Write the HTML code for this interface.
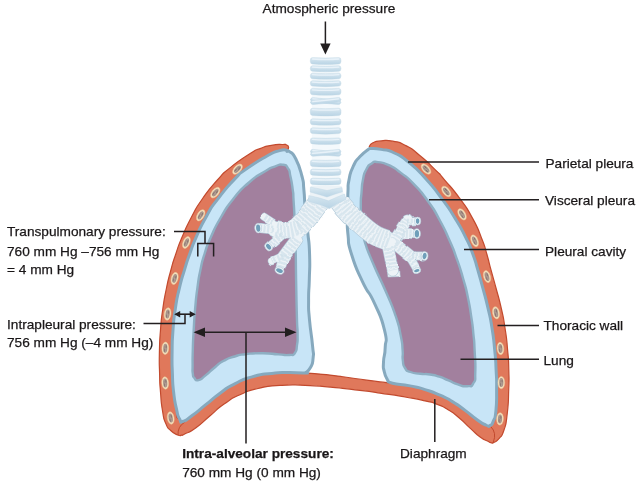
<!DOCTYPE html><html><head><meta charset="utf-8"><style>
html,body{margin:0;padding:0;background:#fff;}
#c{position:relative;width:640px;height:486px;overflow:hidden;background:#fff;font-family:"Liberation Sans",sans-serif;font-size:13.65px;color:#1a1718;}
#c svg{position:absolute;left:0;top:0;}
.t{position:absolute;white-space:nowrap;line-height:1;-webkit-text-stroke:0.25px #1a1718;}
#tx{position:absolute;left:0;top:0;width:640px;height:486px;will-change:transform;opacity:0.999;}
.b{font-weight:bold;}
</style></head><body><div id="c">
<svg width="640" height="486" viewBox="0 0 640 486">
<path d="M288.4,148.6 C288.4,147.9 288.9,147.6 288.3,146.4 C287.7,145.2 288.3,145.6 286.5,145.0 C284.7,144.4 288.0,144.4 283.0,144.5 C278.0,144.6 279.1,143.9 271.4,145.3 C263.7,146.7 267.1,145.8 260.0,148.6 C252.9,151.4 260.1,147.3 250.2,153.6 C240.3,160.0 241.3,158.9 230.3,167.6 C219.4,176.4 226.6,169.7 217.4,180.0 C208.1,190.3 211.3,186.2 202.6,198.5 C194.0,210.9 198.4,204.1 191.5,217.0 C184.7,229.9 187.3,225.0 182.0,237.3 C176.8,249.7 179.5,243.1 175.8,254.0 C172.1,264.9 174.0,258.6 170.9,270.0 C167.9,281.3 169.2,275.0 166.5,288.0 C163.8,301.0 164.8,295.0 162.8,309.0 C160.8,323.0 161.6,315.7 160.5,330.0 C159.4,344.3 159.8,337.5 159.4,352.0 C159.1,366.5 159.2,360.2 159.6,373.5 C159.9,386.8 159.5,379.6 160.5,392.0 C161.5,404.4 160.7,400.2 162.5,410.6 C164.2,421.1 163.0,416.9 165.8,423.5 C168.5,430.1 166.7,426.7 170.7,430.5 C174.7,434.4 174.2,433.4 177.8,435.0 C181.4,436.6 179.2,435.6 181.6,435.2 C184.0,434.8 180.3,436.3 185.1,433.8 C189.9,431.4 187.9,433.6 196.0,427.8 C204.1,421.9 200.1,424.1 209.5,416.2 C218.9,408.3 213.9,411.3 224.1,404.1 C234.3,396.9 228.7,399.9 240.0,394.7 C251.3,389.5 244.7,391.6 258.0,388.5 C271.4,385.4 264.3,386.5 280.0,385.4 C295.6,384.4 288.3,384.8 305.0,385.3 C321.7,385.9 313.3,385.6 330.0,387.1 C346.7,388.5 338.4,387.8 355.0,389.8 C371.7,391.8 363.3,390.6 380.0,393.1 C396.6,395.5 390.0,394.4 405.0,397.0 C420.0,399.6 414.3,398.4 425.1,400.9 C435.9,403.3 429.5,401.3 437.3,404.4 C445.1,407.4 441.1,405.3 448.5,410.0 C455.9,414.6 452.2,412.1 459.6,418.3 C466.9,424.5 463.8,422.4 470.6,428.6 C477.5,434.8 474.4,432.7 480.1,436.9 C485.7,441.0 483.9,439.1 487.5,441.1 C491.1,443.0 488.7,442.2 490.8,442.6 C492.9,443.0 491.1,443.8 493.9,442.4 C496.7,441.0 495.8,442.4 499.2,438.4 C502.5,434.3 501.2,438.4 503.9,430.3 C506.5,422.2 505.6,427.5 507.2,414.0 C508.8,400.6 508.2,404.7 508.7,390.0 C509.2,375.3 509.1,383.3 508.8,370.0 C508.4,356.7 508.9,364.0 507.6,350.0 C506.4,336.0 507.2,342.0 505.0,328.0 C502.9,314.0 504.2,321.4 501.2,308.0 C498.2,294.7 499.4,300.7 496.0,288.0 C492.6,275.3 494.1,281.2 491.0,269.9 C487.9,258.6 490.0,264.9 486.8,254.0 C483.5,243.2 486.3,249.7 481.3,237.4 C476.4,225.1 479.0,230.0 471.9,217.1 C464.7,204.1 469.0,211.0 459.9,198.6 C450.8,186.2 452.6,189.3 444.5,179.8 C436.4,170.3 444.0,178.2 435.6,170.1 C427.3,161.9 429.5,163.4 419.5,155.3 C409.6,147.1 414.7,150.3 405.8,145.6 C396.9,140.9 400.9,142.8 392.7,141.2 C384.5,139.6 387.8,140.4 381.2,140.9 C374.6,141.4 376.9,140.9 372.9,142.8 C368.9,144.7 370.5,145.3 369.3,146.5 L370.5,148.4 C374.1,148.7 373.3,147.9 381.2,149.4 C389.1,150.9 385.2,148.7 394.3,153.0 C403.4,157.3 398.0,153.6 408.5,162.2 C419.0,170.7 414.7,166.6 425.8,178.7 C436.8,190.8 432.1,185.6 441.6,198.4 C451.1,211.2 446.3,204.1 454.3,217.0 C462.4,230.0 459.5,225.0 465.7,237.4 C471.8,249.7 468.8,243.2 472.8,254.1 C476.8,264.9 474.5,258.7 477.8,269.9 C481.1,281.2 479.4,275.2 482.8,287.9 C486.2,300.6 484.9,294.7 488.0,308.1 C491.1,321.4 489.7,314.0 492.0,328.0 C494.2,342.0 493.3,336.0 494.7,350.0 C496.1,364.0 495.5,356.7 496.1,370.0 C496.8,383.3 496.7,376.3 496.6,390.0 C496.6,403.7 496.9,400.8 495.9,411.0 C494.8,421.3 495.3,416.0 493.4,420.8 C491.5,425.6 492.7,424.0 490.2,425.4 C487.7,426.8 490.4,427.1 485.8,425.0 C481.1,423.0 483.2,424.1 476.4,419.2 C469.5,414.4 473.1,416.3 465.1,410.4 C457.1,404.5 460.8,406.7 452.4,401.6 C444.1,396.5 449.1,399.2 440.0,395.2 C430.9,391.2 435.1,392.7 425.0,389.6 C415.0,386.5 420.8,388.0 410.0,385.9 C399.1,383.8 402.5,384.6 392.5,383.3 C382.5,382.0 392.5,383.5 380.0,381.9 C367.5,380.3 371.7,380.8 355.0,378.5 C338.3,376.3 345.8,376.9 330.0,375.1 C314.1,373.3 320.8,374.0 307.5,373.1 C294.2,372.3 301.9,372.6 290.0,372.6 C278.1,372.7 284.5,371.9 271.9,373.4 C259.2,374.8 264.5,373.4 252.1,376.9 C239.7,380.4 245.2,378.5 234.7,383.9 C224.1,389.2 230.0,386.0 220.4,393.0 C210.8,399.9 215.1,397.2 205.8,404.7 C196.4,412.2 201.0,410.7 192.2,415.5 C183.5,420.3 184.9,421.3 179.6,419.0 C174.3,416.7 178.4,417.6 176.4,408.6 C174.4,399.6 175.0,403.7 173.6,392.0 C172.3,380.3 172.9,386.8 172.4,373.5 C171.9,360.2 171.9,366.5 172.1,352.0 C172.3,337.5 172.0,344.3 173.0,330.0 C174.1,315.6 173.2,322.9 175.3,309.0 C177.4,295.0 176.3,301.2 179.4,288.1 C182.5,275.1 181.1,281.2 184.5,269.9 C188.0,258.5 185.8,264.8 189.7,254.0 C193.6,243.2 190.6,249.8 196.1,237.4 C201.6,225.0 198.8,229.7 206.1,216.9 C213.3,204.0 208.4,211.3 217.9,198.9 C227.3,186.4 225.1,189.3 234.4,179.4 C243.8,169.6 235.1,177.1 245.8,169.4 C256.6,161.7 255.4,162.6 266.6,156.3 C277.9,150.1 272.6,152.5 279.6,150.6 C286.6,148.7 284.9,150.6 287.5,150.6Z" fill="#e0785b" stroke="#c24a2e" stroke-width="1.2" stroke-linejoin="round"/>
<path d="M178,435.2 Q177.5,426.5 184.6,422.3 M490.8,426.6 Q497,433 493.3,442" fill="none" stroke="#c24a2e" stroke-width="1"/>
<path d="M287.5,150.6 C284.9,150.6 286.6,148.7 279.6,150.6 C272.6,152.5 277.9,150.1 266.6,156.3 C255.4,162.6 256.6,161.7 245.8,169.4 C235.1,177.1 243.8,169.6 234.4,179.4 C225.1,189.3 227.3,186.4 217.9,198.9 C208.4,211.3 213.3,204.0 206.1,216.9 C198.8,229.7 201.6,225.0 196.1,237.4 C190.6,249.8 193.6,243.2 189.7,254.0 C185.8,264.8 188.0,258.5 184.5,269.9 C181.1,281.2 182.5,275.1 179.4,288.1 C176.3,301.2 177.4,295.0 175.3,309.0 C173.2,322.9 174.1,315.6 173.0,330.0 C172.0,344.3 172.3,337.5 172.1,352.0 C171.9,366.5 171.9,360.2 172.4,373.5 C172.9,386.8 172.3,380.3 173.6,392.0 C175.0,403.7 174.4,399.6 176.4,408.6 C178.4,417.6 177.3,414.8 179.6,419.0 C181.9,423.2 179.1,422.5 183.3,421.3 C187.5,420.1 184.8,421.0 192.2,415.5 C199.7,410.0 196.4,412.2 205.8,404.7 C215.1,397.2 210.8,399.9 220.4,393.0 C230.0,386.0 224.1,389.2 234.7,383.9 C245.2,378.5 239.7,380.4 252.1,376.9 C264.5,373.4 259.2,374.8 271.9,373.4 C284.5,371.9 278.1,372.7 290.0,372.6 C301.9,372.6 301.7,373.0 307.5,373.1 L305.0,373.0 C306.8,371.3 307.6,372.7 310.3,367.8 C313.0,362.8 312.3,365.6 313.1,358.1 C313.8,350.6 313.7,358.1 312.5,345.3 C311.3,332.6 310.9,335.1 309.5,319.9 C308.2,304.8 308.6,313.3 308.6,300.0 C308.5,286.7 308.9,295.0 309.3,280.0 C309.6,265.0 310.1,271.0 309.6,255.0 C309.1,239.0 309.2,247.0 307.7,232.0 C306.3,217.0 306.6,224.0 305.3,210.0 C304.0,196.0 305.0,201.3 303.9,190.0 C302.7,178.6 304.6,186.4 301.9,176.0 C299.2,165.6 299.8,166.8 295.7,158.7 C291.5,150.6 292.4,154.1 289.5,151.6 C286.6,149.2 287.8,151.5 287.0,151.4Z" fill="#c8e5f7" stroke="#86a9be" stroke-width="3" stroke-linejoin="round"/>
<path d="M387.5,380.0 C386.4,377.3 385.7,377.8 384.3,371.8 C383.0,365.9 383.2,370.2 383.5,362.0 C383.8,353.9 384.9,358.1 385.2,347.4 C385.6,336.8 388.1,344.8 384.5,330.1 C381.0,315.4 381.8,319.5 374.5,303.4 C367.2,287.3 370.3,298.1 362.6,281.8 C355.0,265.5 356.4,270.1 351.6,254.5 C346.7,238.9 349.4,247.0 348.0,234.9 C346.7,222.7 347.5,229.0 347.5,218.0 C347.4,207.1 347.6,211.0 347.8,202.0 C348.0,192.9 347.6,198.4 348.0,190.9 C348.4,183.3 347.3,187.6 349.1,179.4 C350.8,171.2 349.6,173.8 353.3,166.2 C356.9,158.6 354.8,162.4 360.0,156.6 C365.3,150.8 366.0,151.4 369.0,148.8 L370.5,148.4 C374.1,148.7 373.3,147.9 381.2,149.4 C389.1,150.9 385.2,148.7 394.3,153.0 C403.4,157.3 398.0,153.6 408.5,162.2 C419.0,170.7 414.7,166.6 425.8,178.7 C436.8,190.8 432.1,185.6 441.6,198.4 C451.1,211.2 446.3,204.1 454.3,217.0 C462.4,230.0 459.5,225.0 465.7,237.4 C471.8,249.7 468.8,243.2 472.8,254.1 C476.8,264.9 474.5,258.7 477.8,269.9 C481.1,281.2 479.4,275.2 482.8,287.9 C486.2,300.6 484.9,294.7 488.0,308.1 C491.1,321.4 489.7,314.0 492.0,328.0 C494.2,342.0 493.3,336.0 494.7,350.0 C496.1,364.0 495.5,356.7 496.1,370.0 C496.8,383.3 496.7,376.3 496.6,390.0 C496.6,403.7 496.9,400.8 495.9,411.0 C494.8,421.3 495.3,416.0 493.4,420.8 C491.5,425.6 492.7,424.0 490.2,425.4 C487.7,426.8 490.4,427.1 485.8,425.0 C481.1,423.0 483.2,424.1 476.4,419.2 C469.5,414.4 473.1,416.3 465.1,410.4 C457.1,404.5 460.8,406.7 452.4,401.6 C444.1,396.5 449.1,399.2 440.0,395.2 C430.9,391.2 435.1,392.7 425.0,389.6 C415.0,386.5 420.8,388.0 410.0,385.9 C399.1,383.8 400.0,385.3 392.5,383.3 C385.0,381.4 389.2,381.1 387.5,380.0Z" fill="#c8e5f7" stroke="#86a9be" stroke-width="3" stroke-linejoin="round"/>
<path d="M283.0,164.8 C278.6,164.2 281.1,164.2 274.7,166.6 C268.3,169.0 272.4,166.8 263.9,172.1 C255.3,177.4 259.1,173.7 249.0,182.5 C239.0,191.2 243.1,186.8 233.8,198.3 C224.5,209.8 228.8,204.0 221.1,217.0 C213.4,230.0 216.3,225.0 210.8,237.3 C205.2,249.7 207.9,243.2 204.5,254.0 C201.1,264.9 202.8,258.6 200.4,269.9 C198.1,281.3 199.2,275.0 197.4,288.0 C195.6,301.0 196.4,295.0 195.1,309.0 C193.9,323.0 194.5,316.3 193.7,330.0 C192.9,343.7 193.1,338.3 192.8,350.0 C192.4,361.7 192.6,357.2 192.6,365.0 C192.6,372.8 192.2,369.2 192.8,373.5 C193.4,377.8 192.5,375.8 194.4,378.0 C196.3,380.2 194.8,381.1 198.5,380.2 C202.2,379.3 200.1,379.7 205.6,375.4 C211.1,371.1 208.9,372.1 215.0,367.2 C221.1,362.3 217.2,364.4 223.8,360.8 C230.4,357.2 227.4,358.7 234.7,356.5 C242.0,354.3 236.2,355.3 245.6,354.2 C255.0,353.1 252.1,353.1 263.0,353.2 C273.9,353.3 269.6,353.8 278.4,354.4 C287.2,355.0 283.9,355.5 289.4,355.0 C294.9,354.5 292.4,356.3 294.9,353.0 C297.4,349.7 296.1,351.4 297.0,345.1 C297.9,338.8 297.6,343.4 297.6,334.0 C297.6,324.6 297.4,335.0 296.9,317.0 C296.4,298.9 296.6,304.0 296.1,280.0 C295.7,256.0 296.0,263.4 295.6,245.0 C295.2,226.7 295.6,239.7 294.9,225.0 C294.2,210.2 294.4,212.7 293.6,200.8 C292.9,188.9 293.8,197.5 292.7,189.3 C291.6,181.1 292.0,183.2 290.4,176.2 C288.9,169.2 290.5,172.1 288.0,168.3 C285.5,164.5 287.4,165.4 283.0,164.8Z" fill="#a2809e" stroke="#8eafc3" stroke-width="2.4" stroke-linejoin="round"/>
<path d="M377.9,162.1 C371.9,161.5 375.2,161.2 371.3,163.7 C367.4,166.2 369.1,164.3 366.3,169.5 C363.5,174.7 364.6,171.7 363.0,179.4 C361.4,187.1 362.3,183.8 361.5,192.6 C360.8,201.4 360.8,194.9 360.8,205.7 C360.8,216.5 360.2,213.5 361.4,225.0 C362.6,236.6 360.6,227.7 364.4,240.3 C368.1,252.9 365.7,245.8 372.8,262.8 C379.9,279.8 378.2,273.8 385.7,291.3 C393.3,308.8 390.4,300.7 395.4,315.3 C400.3,329.9 398.2,323.6 400.6,335.1 C403.0,346.7 401.9,341.7 402.6,350.0 C403.3,358.3 402.0,354.0 402.8,360.0 C403.6,366.0 402.4,364.0 405.0,368.0 C407.6,372.0 405.4,370.1 410.5,372.0 C415.6,373.9 413.8,373.0 420.3,373.8 C426.8,374.6 423.7,373.5 430.0,374.5 C436.3,375.5 433.1,374.7 439.3,376.7 C445.5,378.7 442.3,377.8 448.5,380.4 C454.7,383.0 451.6,382.5 457.8,384.4 C464.0,386.3 461.8,386.7 467.0,386.2 C472.2,385.7 470.7,387.7 473.5,383.0 C476.3,378.3 474.9,383.0 475.3,372.0 C475.7,361.0 475.2,362.7 474.6,350.0 C474.0,337.3 474.6,345.5 473.4,334.0 C472.3,322.5 473.0,327.9 471.1,315.6 C469.2,303.3 470.4,309.4 467.8,297.0 C465.1,284.6 466.9,291.6 463.1,278.5 C459.3,265.4 460.9,270.2 456.4,257.8 C452.0,245.3 455.3,253.5 449.8,241.1 C444.3,228.7 447.1,233.7 439.9,220.5 C432.7,207.3 437.0,213.7 428.2,201.5 C419.5,189.2 422.7,193.4 413.6,183.8 C404.5,174.3 408.9,179.1 400.9,172.9 C392.8,166.8 397.1,169.0 389.4,165.4 C381.7,161.8 383.9,162.7 377.9,162.1Z" fill="#a2809e" stroke="#8eafc3" stroke-width="2.4" stroke-linejoin="round"/>
<g transform="translate(237.5,169.2) rotate(133.5)"><ellipse rx="6.2" ry="3.4" fill="#f5e0bb" stroke="#e6c79c" stroke-width="0.5"/><ellipse rx="4.5" ry="2.1" fill="#a8938a"/><ellipse cx="-1.6" cy="-0.3" rx="1.6" ry="1" fill="#857069"/><ellipse cx="1.9" cy="0.4" rx="1.7" ry="0.9" fill="#8a766f"/><path d="M-3.6,0.2 L3.6,-0.2" stroke="#c4b2a6" stroke-width="0.6"/></g>
<g transform="translate(215.3,192.6) rotate(128.6)"><ellipse rx="6.2" ry="3.4" fill="#f5e0bb" stroke="#e6c79c" stroke-width="0.5"/><ellipse rx="4.5" ry="2.1" fill="#a8938a"/><ellipse cx="-1.6" cy="-0.3" rx="1.6" ry="1" fill="#857069"/><ellipse cx="1.9" cy="0.4" rx="1.7" ry="0.9" fill="#8a766f"/><path d="M-3.6,0.2 L3.6,-0.2" stroke="#c4b2a6" stroke-width="0.6"/></g>
<g transform="translate(200.7,215.3) rotate(120.1)"><ellipse rx="6.2" ry="3.4" fill="#f5e0bb" stroke="#e6c79c" stroke-width="0.5"/><ellipse rx="4.5" ry="2.1" fill="#a8938a"/><ellipse cx="-1.6" cy="-0.3" rx="1.6" ry="1" fill="#857069"/><ellipse cx="1.9" cy="0.4" rx="1.7" ry="0.9" fill="#8a766f"/><path d="M-3.6,0.2 L3.6,-0.2" stroke="#c4b2a6" stroke-width="0.6"/></g>
<g transform="translate(186.4,242.5) rotate(112.5)"><ellipse rx="6.2" ry="3.4" fill="#f5e0bb" stroke="#e6c79c" stroke-width="0.5"/><ellipse rx="4.5" ry="2.1" fill="#a8938a"/><ellipse cx="-1.6" cy="-0.3" rx="1.6" ry="1" fill="#857069"/><ellipse cx="1.9" cy="0.4" rx="1.7" ry="0.9" fill="#8a766f"/><path d="M-3.6,0.2 L3.6,-0.2" stroke="#c4b2a6" stroke-width="0.6"/></g>
<g transform="translate(174.6,278.4) rotate(104.7)"><ellipse rx="6.2" ry="3.4" fill="#f5e0bb" stroke="#e6c79c" stroke-width="0.5"/><ellipse rx="4.5" ry="2.1" fill="#a8938a"/><ellipse cx="-1.6" cy="-0.3" rx="1.6" ry="1" fill="#857069"/><ellipse cx="1.9" cy="0.4" rx="1.7" ry="0.9" fill="#8a766f"/><path d="M-3.6,0.2 L3.6,-0.2" stroke="#c4b2a6" stroke-width="0.6"/></g>
<g transform="translate(167.6,314.0) rotate(97.6)"><ellipse rx="6.2" ry="3.4" fill="#f5e0bb" stroke="#e6c79c" stroke-width="0.5"/><ellipse rx="4.5" ry="2.1" fill="#a8938a"/><ellipse cx="-1.6" cy="-0.3" rx="1.6" ry="1" fill="#857069"/><ellipse cx="1.9" cy="0.4" rx="1.7" ry="0.9" fill="#8a766f"/><path d="M-3.6,0.2 L3.6,-0.2" stroke="#c4b2a6" stroke-width="0.6"/></g>
<g transform="translate(165.3,348.3) rotate(92.0)"><ellipse rx="6.2" ry="3.4" fill="#f5e0bb" stroke="#e6c79c" stroke-width="0.5"/><ellipse rx="4.5" ry="2.1" fill="#a8938a"/><ellipse cx="-1.6" cy="-0.3" rx="1.6" ry="1" fill="#857069"/><ellipse cx="1.9" cy="0.4" rx="1.7" ry="0.9" fill="#8a766f"/><path d="M-3.6,0.2 L3.6,-0.2" stroke="#c4b2a6" stroke-width="0.6"/></g>
<g transform="translate(165.2,383.0) rotate(85.6)"><ellipse rx="6.2" ry="3.4" fill="#f5e0bb" stroke="#e6c79c" stroke-width="0.5"/><ellipse rx="4.5" ry="2.1" fill="#a8938a"/><ellipse cx="-1.6" cy="-0.3" rx="1.6" ry="1" fill="#857069"/><ellipse cx="1.9" cy="0.4" rx="1.7" ry="0.9" fill="#8a766f"/><path d="M-3.6,0.2 L3.6,-0.2" stroke="#c4b2a6" stroke-width="0.6"/></g>
<g transform="translate(170.7,418.0) rotate(81.1)"><ellipse rx="6.2" ry="3.4" fill="#f5e0bb" stroke="#e6c79c" stroke-width="0.5"/><ellipse rx="4.5" ry="2.1" fill="#a8938a"/><ellipse cx="-1.6" cy="-0.3" rx="1.6" ry="1" fill="#857069"/><ellipse cx="1.9" cy="0.4" rx="1.7" ry="0.9" fill="#8a766f"/><path d="M-3.6,0.2 L3.6,-0.2" stroke="#c4b2a6" stroke-width="0.6"/></g>

<g transform="translate(426.0,169.0) rotate(47.9)"><ellipse rx="6.2" ry="3.4" fill="#f5e0bb" stroke="#e6c79c" stroke-width="0.5"/><ellipse rx="4.5" ry="2.1" fill="#a8938a"/><ellipse cx="-1.6" cy="-0.3" rx="1.6" ry="1" fill="#857069"/><ellipse cx="1.9" cy="0.4" rx="1.7" ry="0.9" fill="#8a766f"/><path d="M-3.6,0.2 L3.6,-0.2" stroke="#c4b2a6" stroke-width="0.6"/></g>
<g transform="translate(446.3,191.5) rotate(51.5)"><ellipse rx="6.2" ry="3.4" fill="#f5e0bb" stroke="#e6c79c" stroke-width="0.5"/><ellipse rx="4.5" ry="2.1" fill="#a8938a"/><ellipse cx="-1.6" cy="-0.3" rx="1.6" ry="1" fill="#857069"/><ellipse cx="1.9" cy="0.4" rx="1.7" ry="0.9" fill="#8a766f"/><path d="M-3.6,0.2 L3.6,-0.2" stroke="#c4b2a6" stroke-width="0.6"/></g>
<g transform="translate(462.0,214.3) rotate(60.1)"><ellipse rx="6.2" ry="3.4" fill="#f5e0bb" stroke="#e6c79c" stroke-width="0.5"/><ellipse rx="4.5" ry="2.1" fill="#a8938a"/><ellipse cx="-1.6" cy="-0.3" rx="1.6" ry="1" fill="#857069"/><ellipse cx="1.9" cy="0.4" rx="1.7" ry="0.9" fill="#8a766f"/><path d="M-3.6,0.2 L3.6,-0.2" stroke="#c4b2a6" stroke-width="0.6"/></g>
<g transform="translate(474.6,240.8) rotate(68.1)"><ellipse rx="6.2" ry="3.4" fill="#f5e0bb" stroke="#e6c79c" stroke-width="0.5"/><ellipse rx="4.5" ry="2.1" fill="#a8938a"/><ellipse cx="-1.6" cy="-0.3" rx="1.6" ry="1" fill="#857069"/><ellipse cx="1.9" cy="0.4" rx="1.7" ry="0.9" fill="#8a766f"/><path d="M-3.6,0.2 L3.6,-0.2" stroke="#c4b2a6" stroke-width="0.6"/></g>
<g transform="translate(487.0,276.6) rotate(73.4)"><ellipse rx="6.2" ry="3.4" fill="#f5e0bb" stroke="#e6c79c" stroke-width="0.5"/><ellipse rx="4.5" ry="2.1" fill="#a8938a"/><ellipse cx="-1.6" cy="-0.3" rx="1.6" ry="1" fill="#857069"/><ellipse cx="1.9" cy="0.4" rx="1.7" ry="0.9" fill="#8a766f"/><path d="M-3.6,0.2 L3.6,-0.2" stroke="#c4b2a6" stroke-width="0.6"/></g>
<g transform="translate(496.0,312.8) rotate(79.4)"><ellipse rx="6.2" ry="3.4" fill="#f5e0bb" stroke="#e6c79c" stroke-width="0.5"/><ellipse rx="4.5" ry="2.1" fill="#a8938a"/><ellipse cx="-1.6" cy="-0.3" rx="1.6" ry="1" fill="#857069"/><ellipse cx="1.9" cy="0.4" rx="1.7" ry="0.9" fill="#8a766f"/><path d="M-3.6,0.2 L3.6,-0.2" stroke="#c4b2a6" stroke-width="0.6"/></g>
<g transform="translate(500.4,348.5) rotate(85.7)"><ellipse rx="6.2" ry="3.4" fill="#f5e0bb" stroke="#e6c79c" stroke-width="0.5"/><ellipse rx="4.5" ry="2.1" fill="#a8938a"/><ellipse cx="-1.6" cy="-0.3" rx="1.6" ry="1" fill="#857069"/><ellipse cx="1.9" cy="0.4" rx="1.7" ry="0.9" fill="#8a766f"/><path d="M-3.6,0.2 L3.6,-0.2" stroke="#c4b2a6" stroke-width="0.6"/></g>
<g transform="translate(501.3,382.6) rotate(90.3)"><ellipse rx="6.2" ry="3.4" fill="#f5e0bb" stroke="#e6c79c" stroke-width="0.5"/><ellipse rx="4.5" ry="2.1" fill="#a8938a"/><ellipse cx="-1.6" cy="-0.3" rx="1.6" ry="1" fill="#857069"/><ellipse cx="1.9" cy="0.4" rx="1.7" ry="0.9" fill="#8a766f"/><path d="M-3.6,0.2 L3.6,-0.2" stroke="#c4b2a6" stroke-width="0.6"/></g>
<g transform="translate(500.0,418.9) rotate(92.1)"><ellipse rx="6.2" ry="3.4" fill="#f5e0bb" stroke="#e6c79c" stroke-width="0.5"/><ellipse rx="4.5" ry="2.1" fill="#a8938a"/><ellipse cx="-1.6" cy="-0.3" rx="1.6" ry="1" fill="#857069"/><ellipse cx="1.9" cy="0.4" rx="1.7" ry="0.9" fill="#8a766f"/><path d="M-3.6,0.2 L3.6,-0.2" stroke="#c4b2a6" stroke-width="0.6"/></g>

<defs><filter id="wob" x="-5%" y="-5%" width="110%" height="110%"><feTurbulence type="fractalNoise" baseFrequency="0.11" numOctaves="2" seed="7" result="n"/><feDisplacementMap in="SourceGraphic" in2="n" scale="3.2" xChannelSelector="R" yChannelSelector="G"/></filter><linearGradient id="rg" x1="0" y1="0" x2="0" y2="1"><stop offset="0" stop-color="#dbeaf3"/><stop offset="0.5" stop-color="#c9deeb"/><stop offset="1" stop-color="#b9d4e5"/></linearGradient></defs>
<g filter="url(#wob)">








<path d="M273,222.5 L263.8,216.6" fill="none" stroke="#b4ccdb" stroke-width="8.0" stroke-linecap="round" stroke-linejoin="round"/><path d="M273,229.5 L260.5,228" fill="none" stroke="#b4ccdb" stroke-width="10.0" stroke-linecap="round" stroke-linejoin="round"/><path d="M282,235 L270.5,245" fill="none" stroke="#b4ccdb" stroke-width="9.5" stroke-linecap="round" stroke-linejoin="round"/><path d="M283,256 L272,261" fill="none" stroke="#b4ccdb" stroke-width="8.5" stroke-linecap="round" stroke-linejoin="round"/><path d="M285,255 L280.6,268" fill="none" stroke="#b4ccdb" stroke-width="10.0" stroke-linecap="round" stroke-linejoin="round"/><path d="M297,239 L283.5,257" fill="none" stroke="#b4ccdb" stroke-width="13.0" stroke-linecap="round" stroke-linejoin="round"/><path d="M300,227 C292,231 282,231 275.5,229.3" fill="none" stroke="#b4ccdb" stroke-width="16.5" stroke-linecap="round" stroke-linejoin="round"/><path d="M319,202 C312,212 306,220 298.5,227" fill="none" stroke="#b4ccdb" stroke-width="21.5" stroke-linecap="round" stroke-linejoin="round"/><path d="M273,222.5 L263.8,216.6" fill="none" stroke="#edf3f7" stroke-width="6.7" stroke-linecap="round" stroke-linejoin="round"/><path d="M273,229.5 L260.5,228" fill="none" stroke="#edf3f7" stroke-width="8.7" stroke-linecap="round" stroke-linejoin="round"/><path d="M282,235 L270.5,245" fill="none" stroke="#edf3f7" stroke-width="8.2" stroke-linecap="round" stroke-linejoin="round"/><path d="M283,256 L272,261" fill="none" stroke="#edf3f7" stroke-width="7.2" stroke-linecap="round" stroke-linejoin="round"/><path d="M285,255 L280.6,268" fill="none" stroke="#edf3f7" stroke-width="8.7" stroke-linecap="round" stroke-linejoin="round"/><path d="M297,239 L283.5,257" fill="none" stroke="#edf3f7" stroke-width="11.7" stroke-linecap="round" stroke-linejoin="round"/><path d="M300,227 C292,231 282,231 275.5,229.3" fill="none" stroke="#edf3f7" stroke-width="15.2" stroke-linecap="round" stroke-linejoin="round"/><path d="M319,202 C312,212 306,220 298.5,227" fill="none" stroke="#edf3f7" stroke-width="20.2" stroke-linecap="round" stroke-linejoin="round"/><path d="M273,222.5 L263.8,216.6" fill="none" stroke="#cfdfe9" stroke-width="5.4" stroke-linecap="butt" stroke-dasharray="2.2 1.5" opacity="0.7"/><path d="M273,229.5 L260.5,228" fill="none" stroke="#cfdfe9" stroke-width="7.4" stroke-linecap="butt" stroke-dasharray="2.2 1.5" opacity="0.7"/><path d="M282,235 L270.5,245" fill="none" stroke="#cfdfe9" stroke-width="6.9" stroke-linecap="butt" stroke-dasharray="2.2 1.5" opacity="0.7"/><path d="M283,256 L272,261" fill="none" stroke="#cfdfe9" stroke-width="5.9" stroke-linecap="butt" stroke-dasharray="2.2 1.5" opacity="0.7"/><path d="M285,255 L280.6,268" fill="none" stroke="#cfdfe9" stroke-width="7.4" stroke-linecap="butt" stroke-dasharray="2.2 1.5" opacity="0.7"/><path d="M297,239 L283.5,257" fill="none" stroke="#cfdfe9" stroke-width="10.4" stroke-linecap="butt" stroke-dasharray="2.2 1.5" opacity="0.7"/><path d="M300,227 C292,231 282,231 275.5,229.3" fill="none" stroke="#cfdfe9" stroke-width="13.9" stroke-linecap="butt" stroke-dasharray="2.2 1.5" opacity="0.7"/><path d="M319,202 C312,212 306,220 298.5,227" fill="none" stroke="#cfdfe9" stroke-width="18.9" stroke-linecap="butt" stroke-dasharray="2.2 1.5" opacity="0.7"/>







<path d="M387.5,271 L399.8,271 L400.3,276.5 L388,277 Z" fill="#edf3f7" stroke="#b4ccdb" stroke-width="0.6"/>

<path d="M407,221.5 L415,221.2" fill="none" stroke="#b4ccdb" stroke-width="8.0" stroke-linecap="round" stroke-linejoin="round"/><path d="M402,233 L414.3,233.7" fill="none" stroke="#b4ccdb" stroke-width="10.5" stroke-linecap="round" stroke-linejoin="round"/><path d="M394.5,240 L407.3,220" fill="none" stroke="#b4ccdb" stroke-width="11.0" stroke-linecap="round" stroke-linejoin="round"/><path d="M412,256 L421.8,256" fill="none" stroke="#b4ccdb" stroke-width="9.0" stroke-linecap="round" stroke-linejoin="round"/><path d="M411,259 L416.2,268" fill="none" stroke="#b4ccdb" stroke-width="8.5" stroke-linecap="round" stroke-linejoin="round"/><path d="M396,244.5 L411.5,257" fill="none" stroke="#b4ccdb" stroke-width="12.5" stroke-linecap="round" stroke-linejoin="round"/><path d="M388.3,248 L392.8,270.5" fill="none" stroke="#b4ccdb" stroke-width="12.0" stroke-linecap="round" stroke-linejoin="round"/><path d="M339,201 C344,208 351,216 364.1,227.1 S380,237.5 389.5,241" fill="none" stroke="#b4ccdb" stroke-width="20.5" stroke-linecap="round" stroke-linejoin="round"/><path d="M407,221.5 L415,221.2" fill="none" stroke="#edf3f7" stroke-width="6.7" stroke-linecap="round" stroke-linejoin="round"/><path d="M402,233 L414.3,233.7" fill="none" stroke="#edf3f7" stroke-width="9.2" stroke-linecap="round" stroke-linejoin="round"/><path d="M394.5,240 L407.3,220" fill="none" stroke="#edf3f7" stroke-width="9.7" stroke-linecap="round" stroke-linejoin="round"/><path d="M412,256 L421.8,256" fill="none" stroke="#edf3f7" stroke-width="7.7" stroke-linecap="round" stroke-linejoin="round"/><path d="M411,259 L416.2,268" fill="none" stroke="#edf3f7" stroke-width="7.2" stroke-linecap="round" stroke-linejoin="round"/><path d="M396,244.5 L411.5,257" fill="none" stroke="#edf3f7" stroke-width="11.2" stroke-linecap="round" stroke-linejoin="round"/><path d="M388.3,248 L392.8,270.5" fill="none" stroke="#edf3f7" stroke-width="10.7" stroke-linecap="round" stroke-linejoin="round"/><path d="M339,201 C344,208 351,216 364.1,227.1 S380,237.5 389.5,241" fill="none" stroke="#edf3f7" stroke-width="19.2" stroke-linecap="round" stroke-linejoin="round"/><path d="M407,221.5 L415,221.2" fill="none" stroke="#cfdfe9" stroke-width="5.4" stroke-linecap="butt" stroke-dasharray="2.2 1.5" opacity="0.7"/><path d="M402,233 L414.3,233.7" fill="none" stroke="#cfdfe9" stroke-width="7.9" stroke-linecap="butt" stroke-dasharray="2.2 1.5" opacity="0.7"/><path d="M394.5,240 L407.3,220" fill="none" stroke="#cfdfe9" stroke-width="8.4" stroke-linecap="butt" stroke-dasharray="2.2 1.5" opacity="0.7"/><path d="M412,256 L421.8,256" fill="none" stroke="#cfdfe9" stroke-width="6.4" stroke-linecap="butt" stroke-dasharray="2.2 1.5" opacity="0.7"/><path d="M411,259 L416.2,268" fill="none" stroke="#cfdfe9" stroke-width="5.9" stroke-linecap="butt" stroke-dasharray="2.2 1.5" opacity="0.7"/><path d="M396,244.5 L411.5,257" fill="none" stroke="#cfdfe9" stroke-width="9.9" stroke-linecap="butt" stroke-dasharray="2.2 1.5" opacity="0.7"/><path d="M388.3,248 L392.8,270.5" fill="none" stroke="#cfdfe9" stroke-width="9.4" stroke-linecap="butt" stroke-dasharray="2.2 1.5" opacity="0.7"/><path d="M339,201 C344,208 351,216 364.1,227.1 S380,237.5 389.5,241" fill="none" stroke="#cfdfe9" stroke-width="17.9" stroke-linecap="butt" stroke-dasharray="2.2 1.5" opacity="0.7"/>
</g>
<g transform="translate(258.2,228.1) rotate(-5.0)"><ellipse rx="3.5" ry="4.8" fill="#f1f6f9" stroke="#b4ccdb" stroke-width="0.6"/><ellipse rx="2.1" ry="3.6" fill="#6f9fba"/></g>
<g transform="translate(268.6,246.8) rotate(-38.0)"><ellipse rx="3.4" ry="4.4" fill="#f1f6f9" stroke="#b4ccdb" stroke-width="0.6"/><ellipse rx="2.0" ry="3.2" fill="#6f9fba"/></g>
<g transform="translate(279.5,270.6) rotate(-68.0)"><ellipse rx="3.5" ry="4.7" fill="#f1f6f9" stroke="#b4ccdb" stroke-width="0.6"/><ellipse rx="2.1" ry="3.5" fill="#6f9fba"/></g>
<g transform="translate(417.6,221.1) rotate(0.0)"><ellipse rx="3.2" ry="4.0" fill="#f1f6f9" stroke="#b4ccdb" stroke-width="0.6"/><ellipse rx="1.8" ry="2.8" fill="#6f9fba"/></g>
<g transform="translate(416.9,233.7) rotate(0.0)"><ellipse rx="3.6" ry="5.0" fill="#f1f6f9" stroke="#b4ccdb" stroke-width="0.6"/><ellipse rx="2.2" ry="3.8" fill="#6f9fba"/></g>
<g transform="translate(424.6,256.0) rotate(8.0)"><ellipse rx="3.4" ry="4.4" fill="#f1f6f9" stroke="#b4ccdb" stroke-width="0.6"/><ellipse rx="2.0" ry="3.2" fill="#6f9fba"/></g>
<g transform="translate(416.8,270.6) rotate(75.0)"><ellipse rx="2.9" ry="4.0" fill="#f1f6f9" stroke="#b4ccdb" stroke-width="0.6"/><ellipse rx="1.5" ry="2.8" fill="#6f9fba"/></g>
<rect x="311.8" y="59" width="28" height="134" fill="#f4f9fc"/>
<path d="M310.3,60.0 Q310.3,57.4 312.9,57.6 Q325.6,58.5 338.4,57.6 Q341.0,57.4 341.0,60.0 L341.0,61.4 Q341.0,64.0 338.4,63.9 Q325.6,65.0 312.9,63.9 Q310.3,64.0 310.3,61.4 Z" fill="url(#rg)" stroke="#bfd6e4" stroke-width="0.4"/><path d="M312.5,59.0 Q325.6,60.0 338.8,59.0" fill="none" stroke="#eaf3f9" stroke-width="1.3" stroke-linecap="round" opacity="0.9"/>
<path d="M310.3,68.2 Q310.3,65.6 312.9,65.8 Q325.6,66.7 338.4,65.8 Q341.0,65.6 341.0,68.2 L341.0,68.8 Q341.0,71.4 338.4,71.3 Q325.6,72.4 312.9,71.3 Q310.3,71.4 310.3,68.8 Z" fill="url(#rg)" stroke="#bfd6e4" stroke-width="0.4"/><path d="M312.5,67.2 Q325.6,68.2 338.8,67.2" fill="none" stroke="#eaf3f9" stroke-width="1.3" stroke-linecap="round" opacity="0.9"/>
<path d="M310.3,75.6 Q310.3,73.0 312.9,73.2 Q325.6,74.1 338.4,73.2 Q341.0,73.0 341.0,75.6 L341.0,76.2 Q341.0,78.8 338.4,78.7 Q325.6,79.8 312.9,78.7 Q310.3,78.8 310.3,76.2 Z" fill="url(#rg)" stroke="#bfd6e4" stroke-width="0.4"/><path d="M312.5,74.6 Q325.6,75.6 338.8,74.6" fill="none" stroke="#eaf3f9" stroke-width="1.3" stroke-linecap="round" opacity="0.9"/>
<path d="M310.3,83.1 Q310.3,80.5 312.9,80.7 Q325.6,81.6 338.4,80.7 Q341.0,80.5 341.0,83.1 L341.0,83.6 Q341.0,86.2 338.4,86.1 Q325.6,87.2 312.9,86.1 Q310.3,86.2 310.3,83.6 Z" fill="url(#rg)" stroke="#bfd6e4" stroke-width="0.4"/><path d="M312.5,82.1 Q325.6,83.1 338.8,82.1" fill="none" stroke="#eaf3f9" stroke-width="1.3" stroke-linecap="round" opacity="0.9"/>
<path d="M310.3,90.8 Q310.3,88.2 312.9,88.4 Q325.6,89.3 338.4,88.4 Q341.0,88.2 341.0,90.8 L341.0,92.2 Q341.0,94.8 338.4,94.7 Q325.6,95.8 312.9,94.7 Q310.3,94.8 310.3,92.2 Z" fill="url(#rg)" stroke="#bfd6e4" stroke-width="0.4"/><path d="M312.5,89.8 Q325.6,90.8 338.8,89.8" fill="none" stroke="#eaf3f9" stroke-width="1.3" stroke-linecap="round" opacity="0.9"/>
<path d="M310.3,110.6 Q310.3,108.0 312.9,108.2 Q325.6,109.1 338.4,108.2 Q341.0,108.0 341.0,110.6 L341.0,113.0 Q341.0,115.6 338.4,115.5 Q325.6,116.6 312.9,115.5 Q310.3,115.6 310.3,113.0 Z" fill="url(#rg)" stroke="#bfd6e4" stroke-width="0.4"/><path d="M312.5,109.6 Q325.6,110.6 338.8,109.6" fill="none" stroke="#eaf3f9" stroke-width="1.3" stroke-linecap="round" opacity="0.9"/>
<path d="M310.3,121.2 Q310.3,118.6 312.9,118.8 Q325.6,119.7 338.4,118.8 Q341.0,118.6 341.0,121.2 L341.0,122.2 Q341.0,124.8 338.4,124.7 Q325.6,125.8 312.9,124.7 Q310.3,124.8 310.3,122.2 Z" fill="url(#rg)" stroke="#bfd6e4" stroke-width="0.4"/><path d="M312.5,120.2 Q325.6,121.2 338.8,120.2" fill="none" stroke="#eaf3f9" stroke-width="1.3" stroke-linecap="round" opacity="0.9"/>
<path d="M310.3,130.2 Q310.3,127.6 312.9,127.8 Q325.6,128.7 338.4,127.8 Q341.0,127.6 341.0,130.2 L341.0,131.1 Q341.0,133.7 338.4,133.6 Q325.6,134.7 312.9,133.6 Q310.3,133.7 310.3,131.1 Z" fill="url(#rg)" stroke="#bfd6e4" stroke-width="0.4"/><path d="M312.5,129.2 Q325.6,130.2 338.8,129.2" fill="none" stroke="#eaf3f9" stroke-width="1.3" stroke-linecap="round" opacity="0.9"/>
<path d="M310.3,140.3 Q310.3,137.7 312.9,137.9 Q325.6,138.8 338.4,137.9 Q341.0,137.7 341.0,140.3 L341.0,141.4 Q341.0,144.0 338.4,143.9 Q325.6,145.0 312.9,143.9 Q310.3,144.0 310.3,141.4 Z" fill="url(#rg)" stroke="#bfd6e4" stroke-width="0.4"/><path d="M312.5,139.3 Q325.6,140.3 338.8,139.3" fill="none" stroke="#eaf3f9" stroke-width="1.3" stroke-linecap="round" opacity="0.9"/>
<path d="M310.3,162.3 Q310.3,159.7 312.9,159.9 Q325.6,160.8 338.4,159.9 Q341.0,159.7 341.0,162.3 L341.0,164.0 Q341.0,166.6 338.4,166.5 Q325.6,167.6 312.9,166.5 Q310.3,166.6 310.3,164.0 Z" fill="url(#rg)" stroke="#bfd6e4" stroke-width="0.4"/><path d="M312.5,161.3 Q325.6,162.3 338.8,161.3" fill="none" stroke="#eaf3f9" stroke-width="1.3" stroke-linecap="round" opacity="0.9"/>
<path d="M310.3,171.5 Q310.3,168.9 312.9,169.1 Q325.6,170.0 338.4,169.1 Q341.0,168.9 341.0,171.5 L341.0,172.7 Q341.0,175.3 338.4,175.2 Q325.6,176.3 312.9,175.2 Q310.3,175.3 310.3,172.7 Z" fill="url(#rg)" stroke="#bfd6e4" stroke-width="0.4"/><path d="M312.5,170.5 Q325.6,171.5 338.8,170.5" fill="none" stroke="#eaf3f9" stroke-width="1.3" stroke-linecap="round" opacity="0.9"/>
<path d="M310.3,180.5 Q310.3,177.9 312.9,178.1 Q325.6,179.0 338.4,178.1 Q341.0,177.9 341.0,180.5 L341.0,181.9 Q341.0,184.5 338.4,184.4 Q325.6,185.5 312.9,184.4 Q310.3,184.5 310.3,181.9 Z" fill="url(#rg)" stroke="#bfd6e4" stroke-width="0.4"/><path d="M312.5,179.5 Q325.6,180.5 338.8,179.5" fill="none" stroke="#eaf3f9" stroke-width="1.3" stroke-linecap="round" opacity="0.9"/>
<g transform="rotate(6 325.6 101.0)"><path d="M310.5,101.3 Q310.5,98.7 313.1,98.9 Q325.7,99.0 338.3,98.9 Q340.9,98.7 340.9,101.3 L340.9,100.7 Q340.9,103.3 338.3,103.2 Q325.7,103.6 313.1,103.2 Q310.5,103.3 310.5,100.7 Z" fill="url(#rg)" stroke="#bfd6e4" stroke-width="0.4"/><path d="M312.7,100.3 Q325.7,100.5 338.7,100.3" fill="none" stroke="#eaf3f9" stroke-width="1.3" stroke-linecap="round" opacity="0.9"/></g>
<g transform="rotate(-6 325.6 101.0)"><path d="M310.5,101.3 Q310.5,98.7 313.1,98.9 Q325.7,99.0 338.3,98.9 Q340.9,98.7 340.9,101.3 L340.9,100.7 Q340.9,103.3 338.3,103.2 Q325.7,103.6 313.1,103.2 Q310.5,103.3 310.5,100.7 Z" fill="url(#rg)" stroke="#bfd6e4" stroke-width="0.4"/><path d="M312.7,100.3 Q325.7,100.5 338.7,100.3" fill="none" stroke="#eaf3f9" stroke-width="1.3" stroke-linecap="round" opacity="0.9"/></g>
<g transform="rotate(6 325.6 152.8)"><path d="M310.5,153.1 Q310.5,150.5 313.1,150.7 Q325.7,150.8 338.3,150.7 Q340.9,150.5 340.9,153.1 L340.9,152.5 Q340.9,155.1 338.3,155.0 Q325.7,155.4 313.1,155.0 Q310.5,155.1 310.5,152.5 Z" fill="url(#rg)" stroke="#bfd6e4" stroke-width="0.4"/><path d="M312.7,152.1 Q325.7,152.3 338.7,152.1" fill="none" stroke="#eaf3f9" stroke-width="1.3" stroke-linecap="round" opacity="0.9"/></g>
<g transform="rotate(-6 325.6 152.8)"><path d="M310.5,153.1 Q310.5,150.5 313.1,150.7 Q325.7,150.8 338.3,150.7 Q340.9,150.5 340.9,153.1 L340.9,152.5 Q340.9,155.1 338.3,155.0 Q325.7,155.4 313.1,155.0 Q310.5,155.1 310.5,152.5 Z" fill="url(#rg)" stroke="#bfd6e4" stroke-width="0.4"/><path d="M312.7,152.1 Q325.7,152.3 338.7,152.1" fill="none" stroke="#eaf3f9" stroke-width="1.3" stroke-linecap="round" opacity="0.9"/></g>
<path d="M310.8,186 L341.6,186 L345,199 L329.5,209 L309,202 Z" fill="#edf3f7"/>
<path d="M310.4,187.2 Q319,188.5 327,190.5 Q335,188.8 342,187.6 L342.4,191.8 Q335,194 327,197 Q319,194.5 310.2,192 Z" fill="url(#rg)" stroke="#bcd4e2" stroke-width="0.4" stroke-linejoin="round"/>
<path d="M308.8,195.5 Q319,197.5 328.5,200.8 Q337,197 344.6,194 L346,199.5 Q337,203.5 329.3,208.6 Q319,204 308.4,201.5 Z" fill="url(#rg)" stroke="#bcd4e2" stroke-width="0.4" stroke-linejoin="round"/>
<path d="M325.4,21.5 V46" stroke="#231f20" stroke-width="1.5" fill="none"/>
<path d="M320.2,43.5 L330.6,43.5 L325.4,54.5Z" fill="#231f20"/>
<path d="M408,162 H539 M429,199.8 H539 M464,249.6 H539 M497.5,325.4 H539 M460.5,359.3 H539 M434.8,399 V442" stroke="#231f20" stroke-width="1.5" fill="none"/>
<path d="M174,231.6 H205 V243.5 M197.8,256.5 V243.5 H213.6 V256.5" stroke="#231f20" stroke-width="1.5" fill="none"/>
<path d="M143.5,323.4 H185 V314.2" stroke="#231f20" stroke-width="1.5" fill="none"/>
<path d="M177,314.2 H193" stroke="#231f20" stroke-width="1.6"/>
<path d="M174.2,314.2 L180.2,311 L180.2,317.4Z M195.7,314.2 L189.7,311 L189.7,317.4Z" fill="#231f20"/>
<path d="M203,332.2 H287 M246,332.2 V443.5" stroke="#231f20" stroke-width="1.5" fill="none"/>
<path d="M193.5,332.2 L205,327.5 L205,336.9Z M296.5,332.2 L285,327.5 L285,336.9Z" fill="#231f20"/>
</svg>
<div id="tx">
<div class="t" id="t0" style="left:262.6px;top:2.4px">Atmospheric pressure</div>
<div class="t" id="t1" style="left:545.5px;top:156.6px">Parietal pleura</div>
<div class="t" id="t2" style="left:545.0px;top:194.0px">Visceral pleura</div>
<div class="t" id="t3" style="left:545.0px;top:245.0px">Pleural cavity</div>
<div class="t" id="t4" style="left:543.5px;top:319.2px">Thoracic wall</div>
<div class="t" id="t5" style="left:543.5px;top:354.2px">Lung</div>
<div class="t" id="t6" style="left:400.0px;top:447.4px">Diaphragm</div>
<div class="t" id="t7" style="left:7.0px;top:225.0px">Transpulmonary pressure:</div>
<div class="t" id="t8" style="left:7.0px;top:245.0px">760 mm Hg –756 mm Hg</div>
<div class="t" id="t9" style="left:7.0px;top:263.2px">= 4 mm Hg</div>
<div class="t" id="t10" style="left:7.0px;top:317.7px">Intrapleural pressure:</div>
<div class="t" id="t11" style="left:7.0px;top:336.0px">756 mm Hg (–4 mm Hg)</div>
<div class="t b" id="t12" style="left:182.2px;top:446.8px">Intra-alveolar pressure:</div>
<div class="t" id="t13" style="left:182.2px;top:465.7px">760 mm Hg (0 mm Hg)</div>
</div></div></body></html>
